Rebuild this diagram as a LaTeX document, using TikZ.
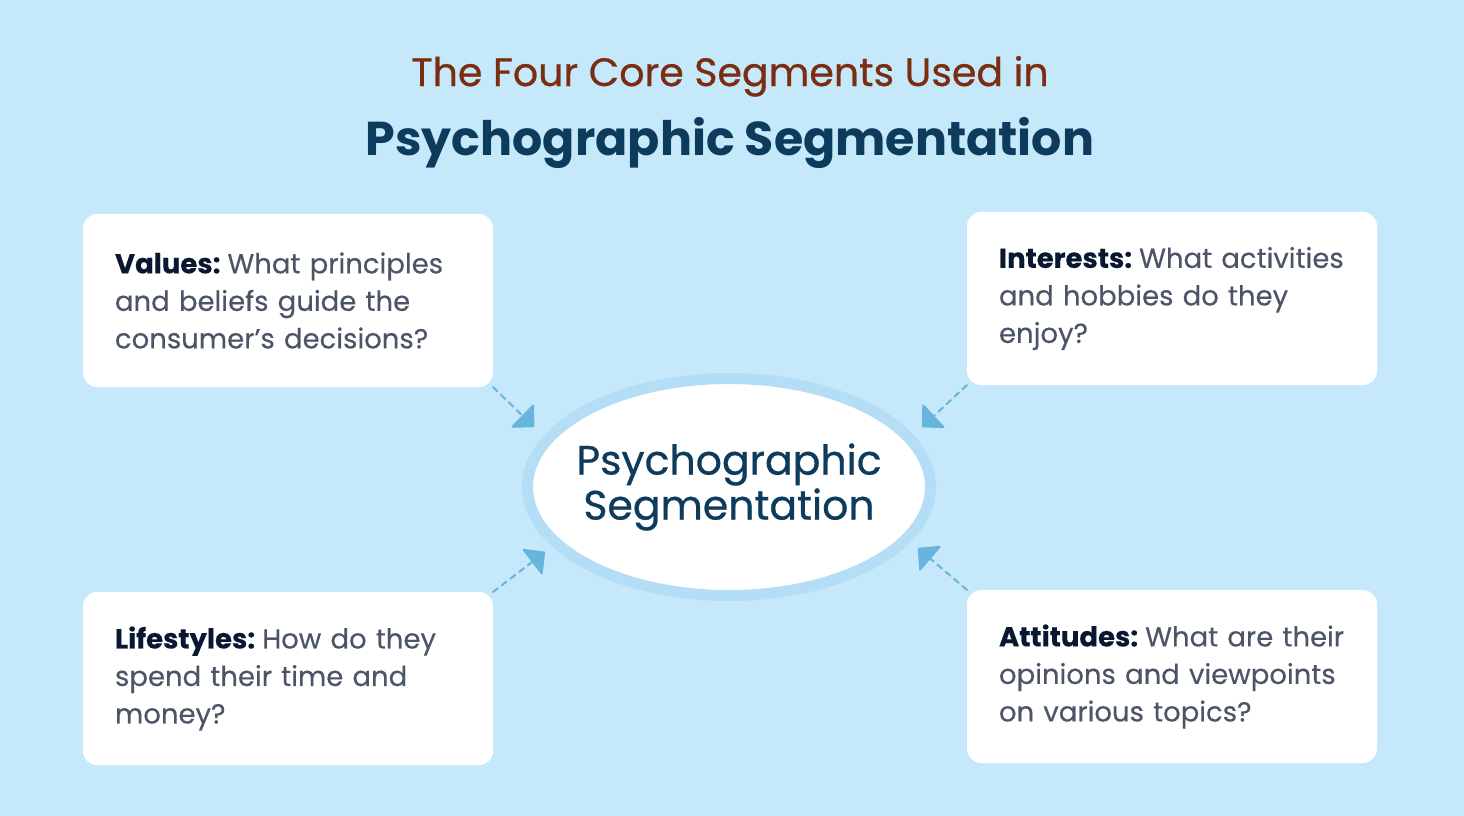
\documentclass[tikz,border=0pt]{standalone}
\usepackage{fontspec}
\setmainfont{Poppins}
\usetikzlibrary{shapes.geometric,arrows.meta}
\definecolor{bgblue}{HTML}{C5E8FB}
\definecolor{ringblue}{HTML}{B4DDF6}
\definecolor{arrowblue}{HTML}{67B4DD}
\definecolor{titlebrown}{HTML}{7B2D12}
\definecolor{navy}{HTML}{0D3B5C}
\definecolor{labelink}{HTML}{0A1730}
\definecolor{bodygray}{HTML}{4B5567}
\newfontfamily\medfont[FakeBold=0.6]{Poppins}
\newfontfamily\bodyfont[FakeBold=0.25]{Poppins}
\newcommand{\lbl}[2]{\mbox{{\bfseries\color{labelink}#1}\hspace{7pt}#2}}
\begin{document}
\begin{tikzpicture}[x=1pt, y=-1pt, line join=round, line cap=round,
	card/.style={fill=white, rounded corners=14pt, minimum width=410pt, minimum height=173pt,
		text width=346pt, inner xsep=32pt, align=left, text=bodygray,
		font=\bodyfont\fontsize{27.5}{37.5}\selectfont},
	link/.style={arrowblue, line width=2pt, dash pattern=on 6pt off 5pt,
		-{Triangle[length=17pt, width=34pt, round]}}]
	\fill[bgblue] (0,0) rectangle (1464,816);
	\useasboundingbox (0,0) rectangle (1464,816);
	% title
	\node[anchor=base, text=titlebrown, font=\medfont\fontsize{39.5}{42}\selectfont] (t1) at (730,86) {The Four Core Segments Used in};
	\node[anchor=base, text=navy, font=\bfseries\fontsize{47.5}{50}\selectfont] (t2) at (730,155) {Psychographic Segmentation};
	% centre
	\node[ellipse, draw=ringblue, line width=11pt, fill=white, minimum width=403pt, minimum height=217pt,
		inner sep=0pt] (ps) at (729,487) {};
	\node[align=center, text=navy, font=\medfont\fontsize{41}{45}\selectfont] (pst) at (ps) {Psychographic\\Segmentation};
	% tips
	\coordinate (tv) at (534,427);
	\coordinate (ti) at (922,427);
	\coordinate (tl) at (545,552);
	\coordinate (ta) at (918,548);
	% boxes
	\path (288,300.5) coordinate (pv) (1172,298.5) coordinate (pi)
		(288,678.5) coordinate (pl) (1172,676.5) coordinate (pa);
	\draw[link] (pv)++(205,86.5) -- (tv);
	\draw[link] (pi)++(-205,86.5) -- (ti);
	\draw[link] (pl)++(205,-86.5) -- (tl);
	\draw[link] (pa)++(-205,-86.5) -- (ta);
	\node[card] (v) at (pv) {\lbl{Values:}{What principles}\\and beliefs guide the\\consumer’s decisions?};
	\node[card] (i) at (pi) {\lbl{Interests:}{What activities}\\and hobbies do they\\enjoy?};
	\node[card] (l) at (pl) {\lbl{Lifestyles:}{How do they}\\spend their time and\\money?};
	\node[card] (a) at (pa) {\lbl{Attitudes:}{What are their}\\opinions and viewpoints\\on various topics?};
\end{tikzpicture}
\end{document}
